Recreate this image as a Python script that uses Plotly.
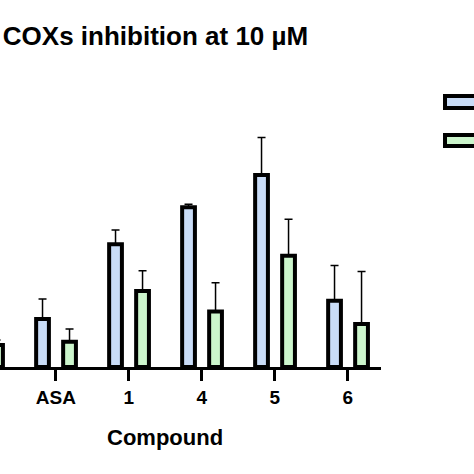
import plotly.graph_objects as go

# compounds (the first one is cut off at the left edge of the crop)
compounds = ["3", "ASA", "1", "4", "5", "6"]

# % inhibition (y axis itself is not visible)
cox1_mean = [30.0, 18.5, 47.2, 61.4, 73.8, 25.5]
cox1_err = [4.0, 7.7, 5.5, 1.2, 14.5, 13.5]
cox2_mean = [8.5, 9.7, 29.2, 21.3, 42.8, 16.5]
cox2_err = [1.9, 4.9, 7.8, 11.1, 14.0, 20.2]

blue = "#c9dcf7"
green = "#ccf5cc"

x_idx = list(range(len(compounds)))

fig = go.Figure()
fig.add_trace(go.Bar(
    x=x_idx, y=cox1_mean, name="COX-1",
    width=0.175, offset=-0.27,
    marker=dict(color=blue, line=dict(color="black", width=4)),
    error_y=dict(type="data", array=cox1_err, arrayminus=[0] * len(cox1_err),
                 symmetric=False, color="black", thickness=1.5, width=4),
))
fig.add_trace(go.Bar(
    x=x_idx, y=cox2_mean, name="COX-2",
    width=0.175, offset=0.10,
    marker=dict(color=green, line=dict(color="black", width=4)),
    error_y=dict(type="data", array=cox2_err, arrayminus=[0] * len(cox2_err),
                 symmetric=False, color="black", thickness=1.5, width=4),
))

# legend boxes, labels fall outside the crop
for y0, y1, col in [(0.996, 1.042, blue), (0.85, 0.892, green)]:
    fig.add_shape(type="rect", xref="paper", yref="paper",
                  x0=1.168, x1=1.35, y0=y0, y1=y1,
                  fillcolor=col, line=dict(color="black", width=4))

fig.add_annotation(text="<b>Compound</b>", xref="paper", yref="paper",
                   x=0.433, y=-0.273, yanchor="middle", showarrow=False,
                   font=dict(size=22, color="black"))

fig.update_layout(
    width=474, height=474,
    margin=dict(l=0, r=93, t=107, b=107),
    barmode="overlay",
    showlegend=False,
    plot_bgcolor="white", paper_bgcolor="white",
    font=dict(family="Arial, Liberation Sans, sans-serif", color="black"),
    title=dict(text="<b>COXs inhibition at 10 µM</b>", xref="container",
               x=0.006, xanchor="left", y=1 - 36 / 474, yanchor="middle",
               font=dict(size=26, color="black")),
)
fig.update_xaxes(
    range=[0.235, 5.454],
    tickmode="array", tickvals=x_idx,
    ticktext=[f"<b>{c}</b>" for c in compounds],
    tickfont=dict(size=19, color="black"),
    showline=True, linecolor="black", linewidth=3,
    ticks="outside", ticklen=11, tickwidth=3, tickcolor="black",
    showgrid=False, zeroline=False,
)
fig.update_yaxes(range=[0, 100], visible=False, showgrid=False)

# drop the browser's default body margin so the figure sits at (0, 0)
fig.write_html("out.html", config={"displayModeBar": False},
               post_script="document.body.style.margin='0';")
